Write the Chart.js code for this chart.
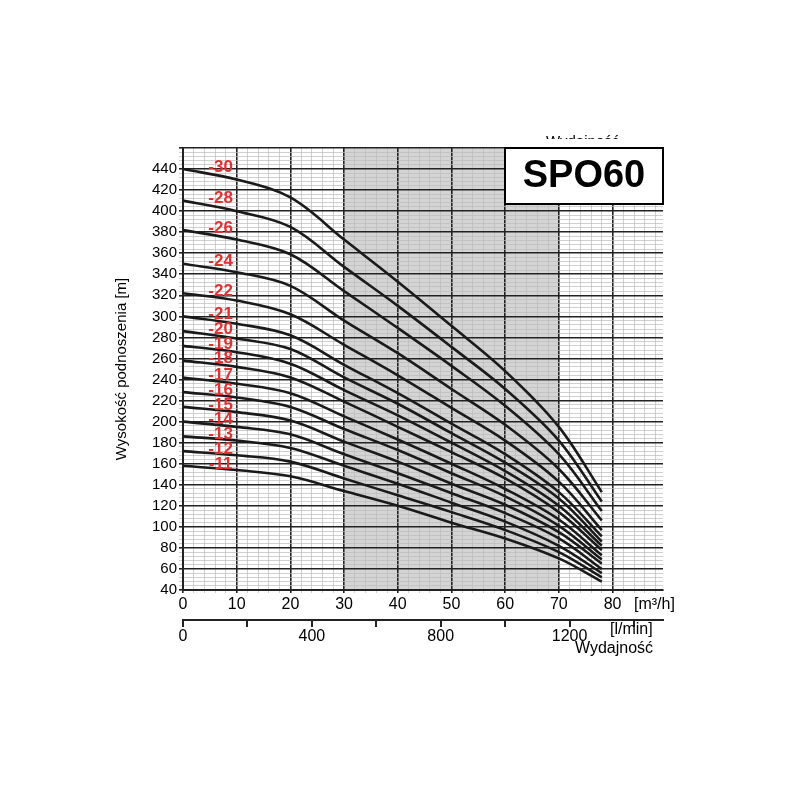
<!DOCTYPE html>
<html><head><meta charset="utf-8">
<script src="https://cdn.jsdelivr.net/npm/chart.js@4"></script>
<style>html,body{margin:0;padding:0;background:#fff}#w{width:800px;height:800px}</style>
</head><body><div id="w"><canvas id="c"></canvas></div>
<script>
const flowPoints = [0,10,20,30,40,50,60,70,78];
const stageLabels = ['-30','-28','-26','-24','-22','-21','-20','-19','-18','-17','-16','-15','-14','-13','-12','-11'];
const s30 = [440,430,413,373,333,291,248,195,133];
const s28 = [410,400,385,347,310,271,231,182,124];
const s26 = [382,373,359,324,289,253,215,169,115];
const s24 = [350,342,329,296,265,231,197,155,106];
const s22 = [322,315,302,273,244,213,182,143,97];
const s21 = [300,293,282,254,227,198,169,133,91];
const s20 = [286,279,269,242,217,189,161,127,86];
const s19 = [272,266,255,230,206,180,153,120,82];
const s18 = [258,252,242,219,195,171,146,114,78];
const s17 = [242,236,227,205,183,160,136,107,73];
const s16 = [228,223,214,193,173,151,129,101,69];
const s15 = [214,209,201,181,162,141,121,95,65];
const s14 = [200,195,188,169,151,132,113,89,60];
const s13 = [186,182,175,158,141,123,105,82,56];
const s12 = [172,168,162,146,130,114,97,76,52];
const s11 = [158,154,148,134,120,104,89,70,48];
const series = [s30,s28,s26,s24,s22,s21,s20,s19,s18,s17,s16,s15,s14,s13,s12,s11];
const xTickLabels = [0,10,20,30,40,50,60,70,80];
const x2TickLabels = [0,400,800,1200];
const yTickLabels = [40,60,80,100,120,140,160,180,200,220,240,260,280,300,320,340,360,380,400,420,440];
const bandRange = [30,70];

const datasets = series.map((s,i)=>({label:stageLabels[i],data:s.map((v,j)=>({x:flowPoints[j],y:v})),
  borderColor:'#1a1a1a',borderWidth:2.6,pointRadius:0,tension:0.35,fill:false}));

const F='Arial, "Liberation Sans"';
const deco = {id:'deco',
  beforeDraw(ch){const {ctx,chartArea:a,scales:{x,y}}=ch;ctx.save();ctx.fillStyle='#d4d4d4';
    ctx.fillRect(x.getPixelForValue(bandRange[0]),a.top,x.getPixelForValue(bandRange[1])-x.getPixelForValue(bandRange[0]),a.bottom-a.top);ctx.restore();},
  afterDraw(ch){const {ctx,chartArea:a,scales:{x,y}}=ch;ctx.save();
    ctx.fillStyle='#e03030';ctx.font='bold 17px '+F;ctx.textAlign='center';ctx.textBaseline='middle';
    series.forEach((s,i)=>{ctx.fillText(stageLabels[i],x.getPixelForValue(7),y.getPixelForValue(s[0])-2);});
    ctx.fillStyle='#000';ctx.font='15px '+F;ctx.textAlign='left';ctx.textBaseline='alphabetic';
    ctx.fillText('Wydajność',546,146);
    ctx.fillStyle='#fff';ctx.fillRect(504,139,160,66);
    ctx.strokeStyle='#000';ctx.lineWidth=2;ctx.strokeRect(505,148,158,56);
    ctx.fillStyle='#000';ctx.font='bold 38px '+F;ctx.textAlign='center';ctx.textBaseline='middle';
    ctx.fillText('SPO60',584,177);
    ctx.font='16px '+F;ctx.textAlign='left';ctx.textBaseline='middle';
    ctx.fillText('[m³/h]',634,605);ctx.fillText('[l/min]',610,630);ctx.fillText('Wydajność',575,649);
    ctx.save();ctx.translate(122,369);ctx.rotate(-Math.PI/2);ctx.textAlign='center';ctx.font='15px '+F;
    ctx.fillText('Wysokość podnoszenia [m]',0,0);ctx.restore();
    ctx.restore();}};

new Chart(document.getElementById('c'),{type:'line',data:{datasets},plugins:[deco],
 options:{responsive:true,maintainAspectRatio:false,animation:false,
  layout:{padding:{top:148,right:137,left:0,bottom:0}},
  plugins:{legend:{display:false},tooltip:{enabled:false}},
  scales:{
   x:{type:'linear',min:0,max:89.4,position:'bottom',afterFit(s){s.height=30;},
    afterBuildTicks(s){const t=[];for(let v=0;v<=88;v+=2)t.push({value:v});s.ticks=t;},
    ticks:{autoSkip:false,maxRotation:0,padding:2,color:'#000',font:{size:16,family:F},
      callback:v=>xTickLabels.includes(v)?String(v):''},
    grid:{color:c=>c.tick&&c.tick.value%10===0?'#222':'#bbb',lineWidth:c=>c.tick&&c.tick.value%10===0?1.6:0.7,tickLength:3},
    border:{color:'#222',width:2}},
   x2:{type:'linear',min:0,max:1490,position:'bottom',afterFit(s){s.height=180;},
    afterBuildTicks(s){const t=[];for(let v=0;v<=1400;v+=200)t.push({value:v});s.ticks=t;},
    ticks:{autoSkip:false,maxRotation:0,padding:0,color:'#000',font:{size:16,family:F},
      callback:v=>x2TickLabels.includes(v)?String(v):''},
    grid:{drawOnChartArea:false,color:'#222',lineWidth:2,tickLength:7},
    border:{color:'#222',width:2}},
   y:{type:'linear',min:40,max:460,afterFit(s){s.width=183;},
    afterBuildTicks(s){const t=[];for(let v=40;v<=460;v+=4)t.push({value:v});s.ticks=t;},
    ticks:{autoSkip:false,padding:2,color:'#000',font:{size:15,family:F},
      callback:v=>yTickLabels.includes(v)?String(v):''},
    grid:{color:c=>c.tick&&c.tick.value%20===0?'#222':'#bbb',lineWidth:c=>c.tick&&c.tick.value%20===0?1.6:0.7,tickLength:4},
    border:{color:'#222',width:2}}
  }}});
</script></body></html>
